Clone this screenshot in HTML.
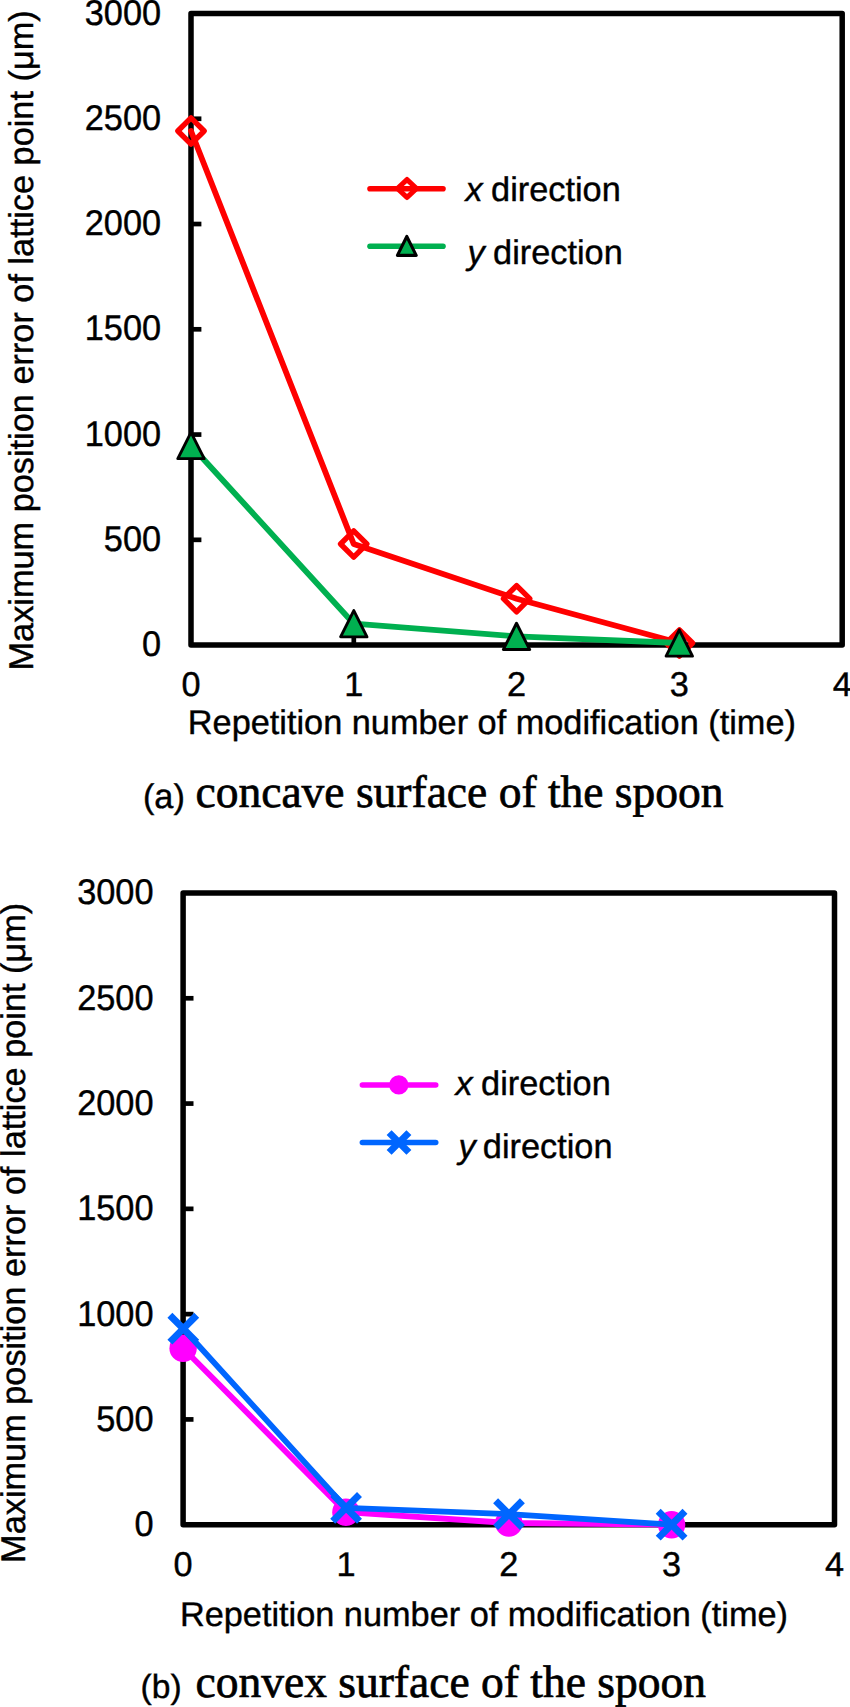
<!DOCTYPE html>
<html><head><meta charset="utf-8"><title>Maximum position error of lattice point</title>
<style>
html,body{margin:0;padding:0;background:#fff;}
body{width:850px;height:1707px;overflow:hidden;position:relative;}
svg{position:absolute;left:0;top:0;display:block;}
svg text{font-family:"Liberation Sans", Arial, sans-serif;font-size:34.3px;fill:#000;stroke:#000;stroke-width:0.4px;text-rendering:geometricPrecision;}
svg text.serif{font-family:"Liberation Serif", "Times New Roman", serif;font-size:45.5px;stroke-width:0.7px;}
</style></head><body>
<svg width="850" height="1707" viewBox="0 0 850 1707">
<g>
<line x1="191" y1="539.83" x2="201.4" y2="539.83" stroke="#000" stroke-width="4.7"/>
<line x1="191" y1="434.57" x2="201.4" y2="434.57" stroke="#000" stroke-width="4.7"/>
<line x1="191" y1="329.3" x2="201.4" y2="329.3" stroke="#000" stroke-width="4.7"/>
<line x1="191" y1="224.03" x2="201.4" y2="224.03" stroke="#000" stroke-width="4.7"/>
<line x1="191" y1="118.77" x2="201.4" y2="118.77" stroke="#000" stroke-width="4.7"/>
<line x1="353.8" y1="645.1" x2="353.8" y2="634.7" stroke="#000" stroke-width="4.7"/>
<line x1="516.6" y1="645.1" x2="516.6" y2="634.7" stroke="#000" stroke-width="4.7"/>
<line x1="679.4" y1="645.1" x2="679.4" y2="634.7" stroke="#000" stroke-width="4.7"/>
<rect x="191" y="13.5" width="651.2" height="631.6" fill="none" stroke="#000" stroke-width="5.5" stroke-linejoin="round"/>
<text transform="translate(161.1 656.1) scale(1 1.04)" text-anchor="end">0</text>
<text transform="translate(161.1 550.83) scale(1 1.04)" text-anchor="end">500</text>
<text transform="translate(161.1 445.57) scale(1 1.04)" text-anchor="end">1000</text>
<text transform="translate(161.1 340.3) scale(1 1.04)" text-anchor="end">1500</text>
<text transform="translate(161.1 235.03) scale(1 1.04)" text-anchor="end">2000</text>
<text transform="translate(161.1 129.77) scale(1 1.04)" text-anchor="end">2500</text>
<text transform="translate(161.1 24.5) scale(1 1.04)" text-anchor="end">3000</text>
<text x="191" y="696" text-anchor="middle">0</text>
<text x="353.8" y="696" text-anchor="middle">1</text>
<text x="516.6" y="696" text-anchor="middle">2</text>
<text x="679.4" y="696" text-anchor="middle">3</text>
<text x="842.2" y="696" text-anchor="middle">4</text>
<text x="187.8" y="734">Repetition number of modification (time)</text>
<text transform="translate(32.8 670.5) rotate(-90)">Maximum position error of lattice point (μm)</text>
<polyline points="191,131 353.7,544 516.6,598.7 679.4,643" fill="none" stroke="#FF0000" stroke-width="5.8" stroke-linejoin="round" stroke-linecap="round"/>
<path d="M191 117.85L204.15 131L191 144.15L177.85 131Z" fill="none" stroke="#FF0000" stroke-width="5.4" stroke-linejoin="round"/>
<path d="M353.7 530.85L366.85 544L353.7 557.15L340.55 544Z" fill="none" stroke="#FF0000" stroke-width="5.4" stroke-linejoin="round"/>
<path d="M516.6 585.55L529.75 598.7L516.6 611.85L503.45 598.7Z" fill="none" stroke="#FF0000" stroke-width="5.4" stroke-linejoin="round"/>
<path d="M679.4 629.85L692.55 643L679.4 656.15L666.25 643Z" fill="none" stroke="#FF0000" stroke-width="5.4" stroke-linejoin="round"/>
<polyline points="191,445.5 353.8,623.7 516.5,636.4 679.3,643" fill="none" stroke="#00B050" stroke-width="5.8" stroke-linejoin="round" stroke-linecap="round"/>
<path d="M191 432.35L204.2 458.65L177.8 458.65Z" fill="#00B050" stroke="#000" stroke-width="2.9" stroke-linejoin="round"/>
<path d="M353.8 610.55L367 636.85L340.6 636.85Z" fill="#00B050" stroke="#000" stroke-width="2.9" stroke-linejoin="round"/>
<path d="M516.5 623.25L529.7 649.55L503.3 649.55Z" fill="#00B050" stroke="#000" stroke-width="2.9" stroke-linejoin="round"/>
<path d="M679.3 629.85L692.5 656.15L666.1 656.15Z" fill="#00B050" stroke="#000" stroke-width="2.9" stroke-linejoin="round"/>
<line x1="370" y1="188.7" x2="443" y2="188.7" stroke="#FF0000" stroke-width="5.6" stroke-linecap="round"/>
<path d="M407 179.55L416.6 188.5L407 197.45L397.4 188.5Z" fill="none" stroke="#FF0000" stroke-width="5.1" stroke-linejoin="round"/>
<line x1="370" y1="246.2" x2="443" y2="246.2" stroke="#00B050" stroke-width="5.6" stroke-linecap="round"/>
<path d="M406.8 236.45L416.2 255.35L397.4 255.35Z" fill="#00B050" stroke="#000" stroke-width="3.1" stroke-linejoin="round"/>
<text x="465.5" y="200.8"><tspan font-style="italic">x</tspan><tspan dx="-1.1"> direction</tspan></text>
<text x="467.4" y="263.5"><tspan font-style="italic">y</tspan><tspan dx="-1.0"> direction</tspan></text>
<text x="142.9" y="807.5">(a)</text>
<text x="195.5" y="807.3" class="serif">concave surface of the spoon</text>
</g>
<g>
<line x1="183.1" y1="1419.42" x2="193.5" y2="1419.42" stroke="#000" stroke-width="4.7"/>
<line x1="183.1" y1="1314.13" x2="193.5" y2="1314.13" stroke="#000" stroke-width="4.7"/>
<line x1="183.1" y1="1208.85" x2="193.5" y2="1208.85" stroke="#000" stroke-width="4.7"/>
<line x1="183.1" y1="1103.57" x2="193.5" y2="1103.57" stroke="#000" stroke-width="4.7"/>
<line x1="183.1" y1="998.28" x2="193.5" y2="998.28" stroke="#000" stroke-width="4.7"/>
<line x1="345.95" y1="1524.7" x2="345.95" y2="1514.3" stroke="#000" stroke-width="4.7"/>
<line x1="508.8" y1="1524.7" x2="508.8" y2="1514.3" stroke="#000" stroke-width="4.7"/>
<line x1="671.65" y1="1524.7" x2="671.65" y2="1514.3" stroke="#000" stroke-width="4.7"/>
<rect x="183.1" y="893" width="651.4" height="631.7" fill="none" stroke="#000" stroke-width="5.5" stroke-linejoin="round"/>
<text transform="translate(153.5 1536.1) scale(1 1.04)" text-anchor="end">0</text>
<text transform="translate(153.5 1430.82) scale(1 1.04)" text-anchor="end">500</text>
<text transform="translate(153.5 1325.53) scale(1 1.04)" text-anchor="end">1000</text>
<text transform="translate(153.5 1220.25) scale(1 1.04)" text-anchor="end">1500</text>
<text transform="translate(153.5 1114.97) scale(1 1.04)" text-anchor="end">2000</text>
<text transform="translate(153.5 1009.68) scale(1 1.04)" text-anchor="end">2500</text>
<text transform="translate(153.5 904.4) scale(1 1.04)" text-anchor="end">3000</text>
<text x="183.1" y="1576" text-anchor="middle">0</text>
<text x="345.95" y="1576" text-anchor="middle">1</text>
<text x="508.8" y="1576" text-anchor="middle">2</text>
<text x="671.65" y="1576" text-anchor="middle">3</text>
<text x="834.5" y="1576" text-anchor="middle">4</text>
<text x="179.9" y="1626.4">Repetition number of modification (time)</text>
<text transform="translate(25.1 1562.9) rotate(-90)">Maximum position error of lattice point (μm)</text>
<polyline points="183.1,1348.3 345.9,1512.2 508.8,1523 671.6,1524.7" fill="none" stroke="#FF00FF" stroke-width="5.8" stroke-linejoin="round" stroke-linecap="round"/>
<circle cx="183.1" cy="1348.3" r="13.7" fill="#FF00FF"/>
<circle cx="345.9" cy="1512.2" r="13.7" fill="#FF00FF"/>
<circle cx="508.8" cy="1523" r="13.7" fill="#FF00FF"/>
<circle cx="671.6" cy="1524.7" r="13.7" fill="#FF00FF"/>
<polyline points="183.3,1328.7 346.1,1507.9 509,1514.1 671.6,1524.7" fill="none" stroke="#0066FF" stroke-width="5.8" stroke-linejoin="round" stroke-linecap="round"/>
<path d="M169.9 1315.3L196.7 1342.1M196.7 1315.3L169.9 1342.1" stroke="#0066FF" stroke-width="7" stroke-linecap="butt" fill="none"/>
<path d="M332.7 1494.5L359.5 1521.3M359.5 1494.5L332.7 1521.3" stroke="#0066FF" stroke-width="7" stroke-linecap="butt" fill="none"/>
<path d="M495.6 1500.7L522.4 1527.5M522.4 1500.7L495.6 1527.5" stroke="#0066FF" stroke-width="7" stroke-linecap="butt" fill="none"/>
<path d="M658.2 1511.3L685 1538.1M685 1511.3L658.2 1538.1" stroke="#0066FF" stroke-width="7" stroke-linecap="butt" fill="none"/>
<line x1="362.4" y1="1085" x2="435.7" y2="1085" stroke="#FF00FF" stroke-width="5.6" stroke-linecap="round"/>
<circle cx="398.8" cy="1084.9" r="9.6" fill="#FF00FF"/>
<line x1="362.4" y1="1142.5" x2="435.7" y2="1142.5" stroke="#0066FF" stroke-width="5.6" stroke-linecap="round"/>
<path d="M389.1 1132.6L408.9 1152.4M408.9 1132.6L389.1 1152.4" stroke="#0066FF" stroke-width="7" stroke-linecap="butt" fill="none"/>
<text x="455.4" y="1094.9"><tspan font-style="italic">x</tspan><tspan dx="-1.0"> direction</tspan></text>
<text x="458.5" y="1157.6"><tspan font-style="italic">y</tspan><tspan dx="-2.3"> direction</tspan></text>
<text x="140.6" y="1697.8" style="font-size:33.6px">(b)</text>
<text x="195.5" y="1696.8" class="serif">convex surface of the spoon</text>
</g>
</svg>
</body></html>
